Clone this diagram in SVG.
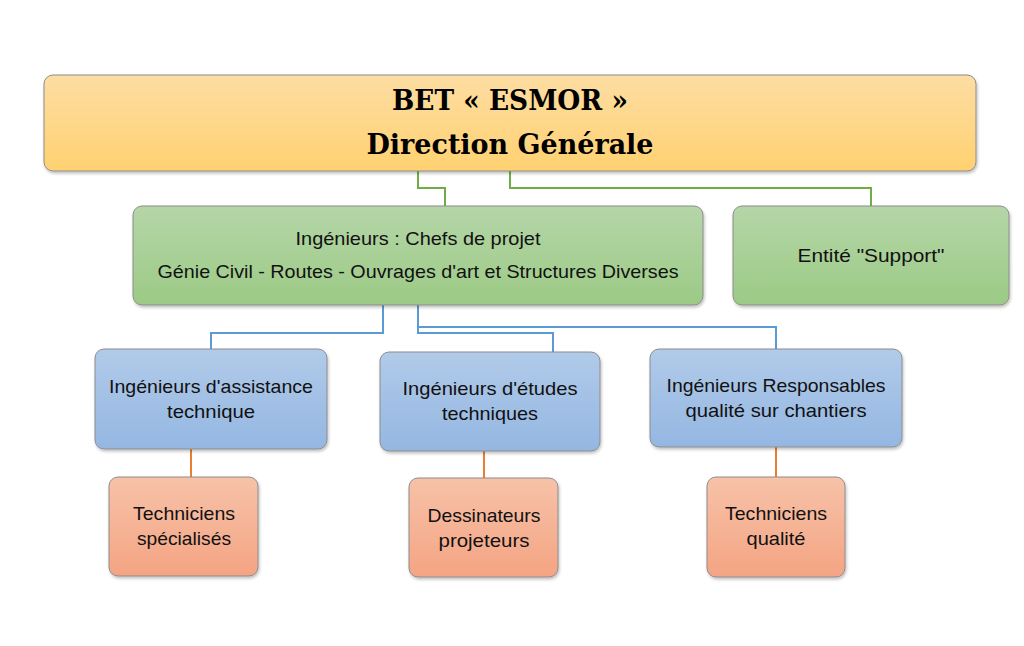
<svg xmlns="http://www.w3.org/2000/svg" width="1024" height="646" viewBox="0 0 1024 646">
<defs>
<linearGradient id="gO" x1="0" y1="0" x2="0" y2="1"><stop offset="0" stop-color="#FDDDA3"/><stop offset="1" stop-color="#FFD170"/></linearGradient>
<linearGradient id="gG" x1="0" y1="0" x2="0" y2="1"><stop offset="0" stop-color="#B5D6A8"/><stop offset="1" stop-color="#9CCA85"/></linearGradient>
<linearGradient id="gB" x1="0" y1="0" x2="0" y2="1"><stop offset="0" stop-color="#B1CAE9"/><stop offset="1" stop-color="#94B7E2"/></linearGradient>
<linearGradient id="gR" x1="0" y1="0" x2="0" y2="1"><stop offset="0" stop-color="#F7C2A8"/><stop offset="1" stop-color="#F4A483"/></linearGradient>
<filter id="sh" x="-5%" y="-5%" width="110%" height="115%"><feDropShadow dx="1" dy="2" stdDeviation="1.5" flood-color="#000" flood-opacity="0.25"/></filter>
</defs>
<style>
.box{stroke:#8C8C8C;stroke-width:1;filter:url(#sh)}
.t{font-family:"Liberation Sans",Arial,sans-serif;font-size:19px;fill:#111;text-anchor:middle}
.h{font-family:"DejaVu Serif","Liberation Serif",serif;font-weight:bold;font-size:27px;fill:#000;text-anchor:middle}
.cg{fill:none;stroke:#70AD47;stroke-width:2}
.cb{fill:none;stroke:#5B9BD5;stroke-width:2}
.co{fill:none;stroke:#ED7D31;stroke-width:2}
</style>
<rect width="1024" height="646" fill="#fff"/>
<g id="connectors">
<path class="cg" d="M418 171V188H445V206"/>
<path class="cg" d="M510 171V188H871V206"/>
<path class="cb" d="M383 305V333H211V349"/>
<path class="cb" d="M418 305V333H553V352"/>
<path class="cb" d="M418 305V327H776V349"/>
<path class="co" d="M191 449V477"/>
<path class="co" d="M484 451V478"/>
<path class="co" d="M776 447V477"/>
</g>
<g id="direction">
<rect class="box" x="44" y="75" width="932" height="96" rx="9" fill="url(#gO)"/>
<text class="h" x="510" y="110" textLength="236" lengthAdjust="spacingAndGlyphs">BET « ESMOR »</text>
<text class="h" x="510" y="154" textLength="287" lengthAdjust="spacingAndGlyphs">Direction Générale</text>
</g>
<g id="chefs">
<rect class="box" x="133" y="206" width="570" height="99" rx="9" fill="url(#gG)"/>
<text class="t" x="418" y="245" textLength="245" lengthAdjust="spacingAndGlyphs">Ingénieurs : Chefs de projet</text>
<text class="t" x="418" y="278" textLength="521" lengthAdjust="spacingAndGlyphs">Génie Civil - Routes - Ouvrages d'art et Structures Diverses</text>
</g>
<g id="support">
<rect class="box" x="733" y="206" width="276" height="99" rx="9" fill="url(#gG)"/>
<text class="t" x="871" y="262" textLength="147" lengthAdjust="spacingAndGlyphs">Entité "Support"</text>
</g>
<g id="assistance">
<rect class="box" x="95" y="349" width="232" height="100" rx="9" fill="url(#gB)"/>
<text class="t" x="211" y="393" textLength="204" lengthAdjust="spacingAndGlyphs">Ingénieurs d'assistance</text>
<text class="t" x="211" y="418" textLength="88" lengthAdjust="spacingAndGlyphs">technique</text>
</g>
<g id="etudes">
<rect class="box" x="380" y="352" width="220" height="99" rx="9" fill="url(#gB)"/>
<text class="t" x="490" y="395" textLength="175" lengthAdjust="spacingAndGlyphs">Ingénieurs d'études</text>
<text class="t" x="490" y="420" textLength="96" lengthAdjust="spacingAndGlyphs">techniques</text>
</g>
<g id="qualite">
<rect class="box" x="650" y="349" width="252" height="98" rx="9" fill="url(#gB)"/>
<text class="t" x="776" y="392" textLength="219" lengthAdjust="spacingAndGlyphs">Ingénieurs Responsables</text>
<text class="t" x="776" y="417" textLength="181" lengthAdjust="spacingAndGlyphs">qualité sur chantiers</text>
</g>
<g id="techniciens-specialises">
<rect class="box" x="109" y="477" width="149" height="99" rx="9" fill="url(#gR)"/>
<text class="t" x="184" y="520" textLength="102" lengthAdjust="spacingAndGlyphs">Techniciens</text>
<text class="t" x="184" y="545" textLength="94" lengthAdjust="spacingAndGlyphs">spécialisés</text>
</g>
<g id="dessinateurs">
<rect class="box" x="409" y="478" width="149" height="99" rx="9" fill="url(#gR)"/>
<text class="t" x="484" y="522" textLength="113" lengthAdjust="spacingAndGlyphs">Dessinateurs</text>
<text class="t" x="484" y="547" textLength="91" lengthAdjust="spacingAndGlyphs">projeteurs</text>
</g>
<g id="techniciens-qualite">
<rect class="box" x="707" y="477" width="138" height="100" rx="9" fill="url(#gR)"/>
<text class="t" x="776" y="520" textLength="102" lengthAdjust="spacingAndGlyphs">Techniciens</text>
<text class="t" x="776" y="545" textLength="59" lengthAdjust="spacingAndGlyphs">qualité</text>
</g>
</svg>
